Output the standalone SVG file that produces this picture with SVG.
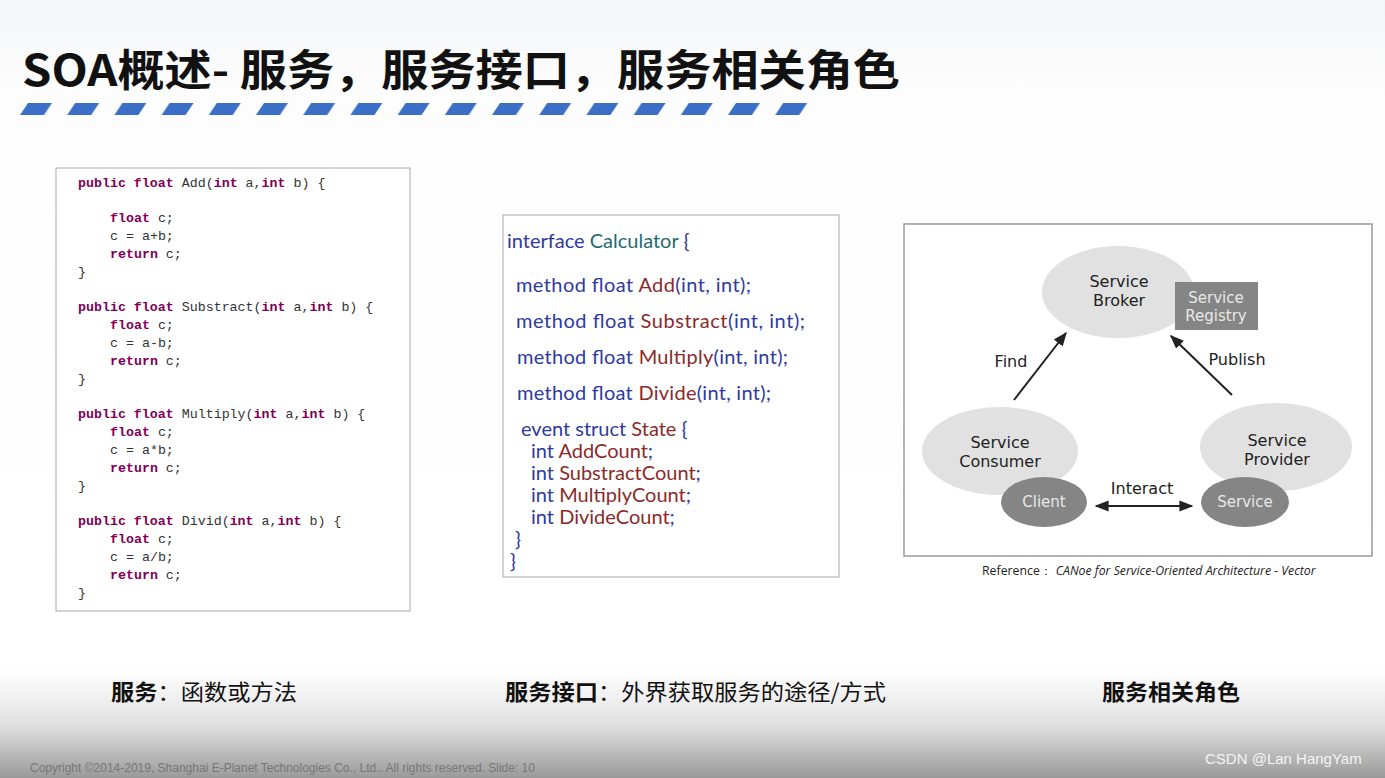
<svg xmlns="http://www.w3.org/2000/svg" width="1385" height="778" viewBox="0 0 1385 778">
<defs>
<linearGradient id="bg" x1="0" y1="0" x2="0" y2="1">
<stop offset="0" stop-color="#f4f5f7"/><stop offset="0.12" stop-color="#fdfdfd"/><stop offset="0.86" stop-color="#ffffff"/><stop offset="0.93" stop-color="#e2e2e2"/><stop offset="1" stop-color="#9a9a9a"/>
</linearGradient>
<pattern id="stripes" x="20" y="103" width="47.2" height="12" patternUnits="userSpaceOnUse">
<polygon points="8,0 32,0 24,12 0,12" fill="#3b6fc7"/>
</pattern>
<marker id="ah" viewBox="0 0 10 10" refX="9" refY="5" markerWidth="7" markerHeight="7" orient="auto-start-reverse"><path d="M0,1 L10,5 L0,9 z" fill="#222"/></marker>
</defs>
<style>
.code{font-family:"Liberation Mono",monospace;font-size:13.3px;fill:#333}
.kw{fill:#7f0055;font-weight:bold}
.ifc{font-family:Lato,"Open Sans",sans-serif;font-size:20px;fill:#2e3a9e}
.nm{fill:#8a2a2a}
.tl{fill:#1e6b70}
.dg{font-family:"DejaVu Sans",sans-serif;font-size:16px;fill:#222}
.dw{font-family:"DejaVu Sans",sans-serif;font-size:15px;fill:#e8e8e8}
.lbl{font-family:"Noto Sans CJK SC",sans-serif;font-size:22px;fill:#111}
.ell{fill:#e1e1e1}
.dk{fill:#858585}
.conn{stroke:#222;stroke-width:2;fill:none}
</style>
<rect width="1385" height="778" fill="url(#bg)"/>
<text x="22" y="86" font-family="'Noto Sans CJK SC',sans-serif" font-size="43" font-weight="bold" fill="#111" textLength="878" lengthAdjust="spacingAndGlyphs">SOA概述- 服务，服务接口，服务相关角色</text>
<rect x="20" y="103" width="790" height="12" fill="url(#stripes)"/>

<g id="code">
<rect x="56" y="168" width="354" height="443" fill="#fff" stroke="#aaa"/>
<text class="code" xml:space="preserve">
<tspan x="78" y="187"><tspan class="kw">public float</tspan> Add(<tspan class="kw">int</tspan> a,<tspan class="kw">int</tspan> b) {</tspan>
<tspan x="110" y="222"><tspan class="kw">float</tspan> c;</tspan>
<tspan x="110" y="240">c = a+b;</tspan>
<tspan x="110" y="258"><tspan class="kw">return</tspan> c;</tspan>
<tspan x="78" y="276">}</tspan>
<tspan x="78" y="311"><tspan class="kw">public float</tspan> Substract(<tspan class="kw">int</tspan> a,<tspan class="kw">int</tspan> b) {</tspan>
<tspan x="110" y="329"><tspan class="kw">float</tspan> c;</tspan>
<tspan x="110" y="347">c = a-b;</tspan>
<tspan x="110" y="365"><tspan class="kw">return</tspan> c;</tspan>
<tspan x="78" y="383">}</tspan>
<tspan x="78" y="418"><tspan class="kw">public float</tspan> Multiply(<tspan class="kw">int</tspan> a,<tspan class="kw">int</tspan> b) {</tspan>
<tspan x="110" y="436"><tspan class="kw">float</tspan> c;</tspan>
<tspan x="110" y="454">c = a*b;</tspan>
<tspan x="110" y="472"><tspan class="kw">return</tspan> c;</tspan>
<tspan x="78" y="490">}</tspan>
<tspan x="78" y="525"><tspan class="kw">public float</tspan> Divid(<tspan class="kw">int</tspan> a,<tspan class="kw">int</tspan> b) {</tspan>
<tspan x="110" y="543"><tspan class="kw">float</tspan> c;</tspan>
<tspan x="110" y="561">c = a/b;</tspan>
<tspan x="110" y="579"><tspan class="kw">return</tspan> c;</tspan>
<tspan x="78" y="597">}</tspan>
</text>
</g>

<g id="interface">
<rect x="503" y="215" width="336" height="362" fill="#fff" stroke="#aaa"/>
<text class="ifc">
<tspan x="507" y="248">interface <tspan class="tl">Calculator</tspan> {</tspan>
<tspan x="516" y="292" textLength="235">method float <tspan class="nm">Add</tspan>(int, int);</tspan>
<tspan x="516" y="328" textLength="289">method float <tspan class="nm">Substract</tspan>(int, int);</tspan>
<tspan x="517" y="364" textLength="271">method float <tspan class="nm">Multiply</tspan>(int, int);</tspan>
<tspan x="517" y="400" textLength="254">method float <tspan class="nm">Divide</tspan>(int, int);</tspan>
<tspan x="521" y="436">event struct <tspan class="nm">State</tspan> {</tspan>
<tspan x="531" y="458">int <tspan class="nm">AddCount</tspan>;</tspan>
<tspan x="531" y="480">int <tspan class="nm">SubstractCount</tspan>;</tspan>
<tspan x="531" y="502">int <tspan class="nm">MultiplyCount</tspan>;</tspan>
<tspan x="531" y="524">int <tspan class="nm">DivideCount</tspan>;</tspan>
<tspan x="515" y="546">}</tspan>
<tspan x="510" y="568">}</tspan>
</text>
</g>

<g id="roles">
<rect x="904" y="224" width="468" height="332" fill="#fff" stroke="#999" stroke-width="1.5"/>
<g id="broker"><ellipse class="ell" cx="1118" cy="292" rx="76" ry="46"/>
<text class="dg" text-anchor="middle"><tspan x="1119" y="287">Service</tspan><tspan x="1119" y="306">Broker</tspan></text></g>
<g id="registry"><rect class="dk" x="1175" y="282" width="83" height="48"/>
<text class="dw" text-anchor="middle"><tspan x="1216" y="303">Service</tspan><tspan x="1216" y="321">Registry</tspan></text></g>
<g id="consumer"><ellipse class="ell" cx="1000" cy="451" rx="78" ry="44"/>
<text class="dg" text-anchor="middle"><tspan x="1000" y="448">Service</tspan><tspan x="1000" y="467">Consumer</tspan></text></g>
<g id="provider"><ellipse class="ell" cx="1276" cy="447" rx="76" ry="44"/>
<text class="dg" text-anchor="middle"><tspan x="1277" y="446">Service</tspan><tspan x="1277" y="465">Provider</tspan></text></g>
<g id="client"><ellipse class="dk" cx="1044" cy="502" rx="43" ry="25"/>
<text class="dw" x="1044" y="507" text-anchor="middle">Client</text></g>
<g id="service"><ellipse class="dk" cx="1245" cy="502" rx="44" ry="25"/>
<text class="dw" x="1245" y="507" text-anchor="middle">Service</text></g>
<g id="connectors">
<line class="conn" x1="1014" y1="400" x2="1066" y2="333" marker-end="url(#ah)"/>
<line class="conn" x1="1232" y1="395" x2="1171" y2="336" marker-end="url(#ah)"/>
<line class="conn" x1="1096" y1="506" x2="1192" y2="506" marker-start="url(#ah)" marker-end="url(#ah)"/>
</g>
<text class="dg" x="1011" y="367" text-anchor="middle">Find</text>
<text class="dg" x="1237" y="365" text-anchor="middle">Publish</text>
<text class="dg" x="1142" y="494" text-anchor="middle">Interact</text>
<text x="982" y="575" font-family="'Open Sans',sans-serif" font-size="12.3" fill="#222">Reference：<tspan font-style="italic" dx="4">CANoe for Service-Oriented Architecture - Vector</tspan></text>
</g>

<text class="lbl" x="111" y="700" textLength="186" lengthAdjust="spacingAndGlyphs"><tspan font-weight="bold">服务</tspan>：函数或方法</text>
<text class="lbl" x="505" y="700" textLength="381" lengthAdjust="spacingAndGlyphs"><tspan font-weight="bold">服务接口</tspan>：外界获取服务的途径/方式</text>
<text class="lbl" x="1102" y="700" font-weight="bold" textLength="138" lengthAdjust="spacingAndGlyphs">服务相关角色</text>
<text x="30" y="772" font-family="'Liberation Sans Narrow','Liberation Sans',sans-serif" font-size="12" fill="#777">Copyright ©2014-2019, Shanghai E-Planet Technologies Co., Ltd.. All rights reserved.    Slide: 10</text>
<text x="1205" y="764" font-family="'Liberation Sans',sans-serif" font-size="15" fill="#f4f4f4">CSDN @Lan HangYam</text>
</svg>
